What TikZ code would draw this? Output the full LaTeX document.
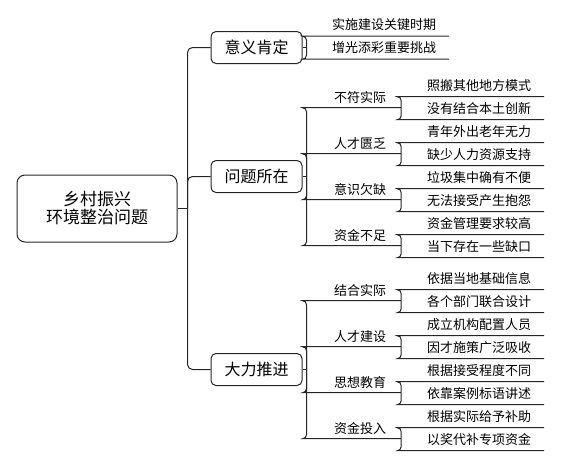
\documentclass[tikz,border=0pt]{standalone}
\usepackage{fontspec}
\setmainfont{Noto Sans CJK SC}
\begin{document}
\begin{tikzpicture}[x=1pt,y=-1pt,root node/.style={draw=black!85, line width=1pt, rounded corners=8pt, minimum width=160pt, minimum height=67pt, inner sep=0pt, align=center, font=\fontsize{17}{18}\selectfont},branch node/.style={draw=black!85, line width=1pt, rounded corners=5pt, minimum width=91pt, minimum height=32pt, inner sep=0pt, font=\fontsize{16}{18}\selectfont},topic node/.style={text width=65pt, align=right, inner xsep=15pt, inner ysep=0pt, minimum height=20pt, font=\fontsize{13}{15}\selectfont},leaf node/.style={text width=117pt, align=right, inner xsep=13pt, inner ysep=0pt, minimum height=22pt, font=\fontsize{13}{15}\selectfont},link/.style={line width=1pt, black!85, rounded corners=4pt},stem/.style={link, rounded corners=5pt}]%
\node[root node] (root) at (97,208.5) {乡村振兴\\环境整治问题};%
\node[branch node] (yiyi) at (256.5,47.5) {意义肯定};%
\node[branch node] (wenti) at (256.5,176.5) {问题所在};%
\node[branch node] (tuijin) at (256.5,369.5) {大力推进};%
\coordinate (stem) at (187.5,208.5);%
\path[stem,draw] (root.east) -- (stem);%
\path[stem,draw] (stem) |- (yiyi.west);%
\path[stem,draw] (stem) |- (wenti.west);%
\path[stem,draw] (stem) |- (tuijin.west);%
  % Branch 意义肯定%
\coordinate (yiyi k) at ([xshift=4pt]yiyi.east);%
\node[leaf node] (yiyi a) at (377.5,25) {实施建设关键时期};%
\node[leaf node] (yiyi b) at (377.5,48) {增光添彩重要挑战};%
\path[link,draw] (yiyi.east) -- (yiyi k);%
\path[link,draw] (yiyi k) |- (yiyi a.south west) -- (yiyi a.south east);%
\path[link,draw] (yiyi k) |- (yiyi b.south west) -- (yiyi b.south east);%
  % Branch 问题所在%
\coordinate (wenti k) at ([xshift=4pt]wenti.east);%
\path[link,draw] (wenti.east) -- (wenti k);%
\node[topic node] (bufu) at (353.5,97.5) {不符实际};%
\node[leaf node] (bufu a) at (472.5,85.5) {照搬其他地方模式};%
\node[leaf node] (bufu b) at (472.5,108.5) {没有结合本土创新};%
\node[topic node] (rencai) at (353.5,143.5) {人才匮乏};%
\node[leaf node] (rencai a) at (472.5,131.5) {青年外出老年无力};%
\node[leaf node] (rencai b) at (472.5,154.5) {缺少人力资源支持};%
\node[topic node] (yishi) at (353.5,189.5) {意识欠缺};%
\node[leaf node] (yishi a) at (472.5,177.5) {垃圾集中确有不便};%
\node[leaf node] (yishi b) at (472.5,200.5) {无法接受产生抱怨};%
\node[topic node] (zijin) at (353.5,235.5) {资金不足};%
\node[leaf node] (zijin a) at (472.5,223.5) {资金管理要求较高};%
\node[leaf node] (zijin b) at (472.5,246.5) {当下存在一些缺口};%
  % Branch 大力推进%
\coordinate (tuijin k) at ([xshift=4pt]tuijin.east);%
\path[link,draw] (tuijin.east) -- (tuijin k);%
\node[topic node] (jiehe) at (353.5,290.5) {结合实际};%
\node[leaf node] (jiehe a) at (472.5,278.5) {依据当地基础信息};%
\node[leaf node] (jiehe b) at (472.5,301.5) {各个部门联合设计};%
\node[topic node] (jianshe) at (353.5,336.5) {人才建设};%
\node[leaf node] (jianshe a) at (472.5,324.5) {成立机构配置人员};%
\node[leaf node] (jianshe b) at (472.5,347.5) {因才施策广泛吸收};%
\node[topic node] (jiaoyu) at (353.5,382.5) {思想教育};%
\node[leaf node] (jiaoyu a) at (472.5,370.5) {根据接受程度不同};%
\node[leaf node] (jiaoyu b) at (472.5,393.5) {依靠案例标语讲述};%
\node[topic node] (touru) at (353.5,428.5) {资金投入};%
\node[leaf node] (touru a) at (472.5,416.5) {根据实际给予补助};%
\node[leaf node] (touru b) at (472.5,439.5) {以奖代补专项资金};%
  % Topic lines and brackets%
\foreach \t/\k in {bufu/wenti k,rencai/wenti k,yishi/wenti k,zijin/wenti k,jiehe/tuijin k,jianshe/tuijin k,jiaoyu/tuijin k,touru/tuijin k}{%
\path[link,draw] (\k) |- (\t.south west) -- (\t.south east);%
\path[link,draw] (\t.south east) |- (\t\space a.south west) -- (\t\space a.south east);%
\path[link,draw] (\t.south east) |- (\t\space b.south west) -- (\t\space b.south east);%
}%
\path[use as bounding box] (0,0) rectangle (561,466);%
\end{tikzpicture}
\end{document}
